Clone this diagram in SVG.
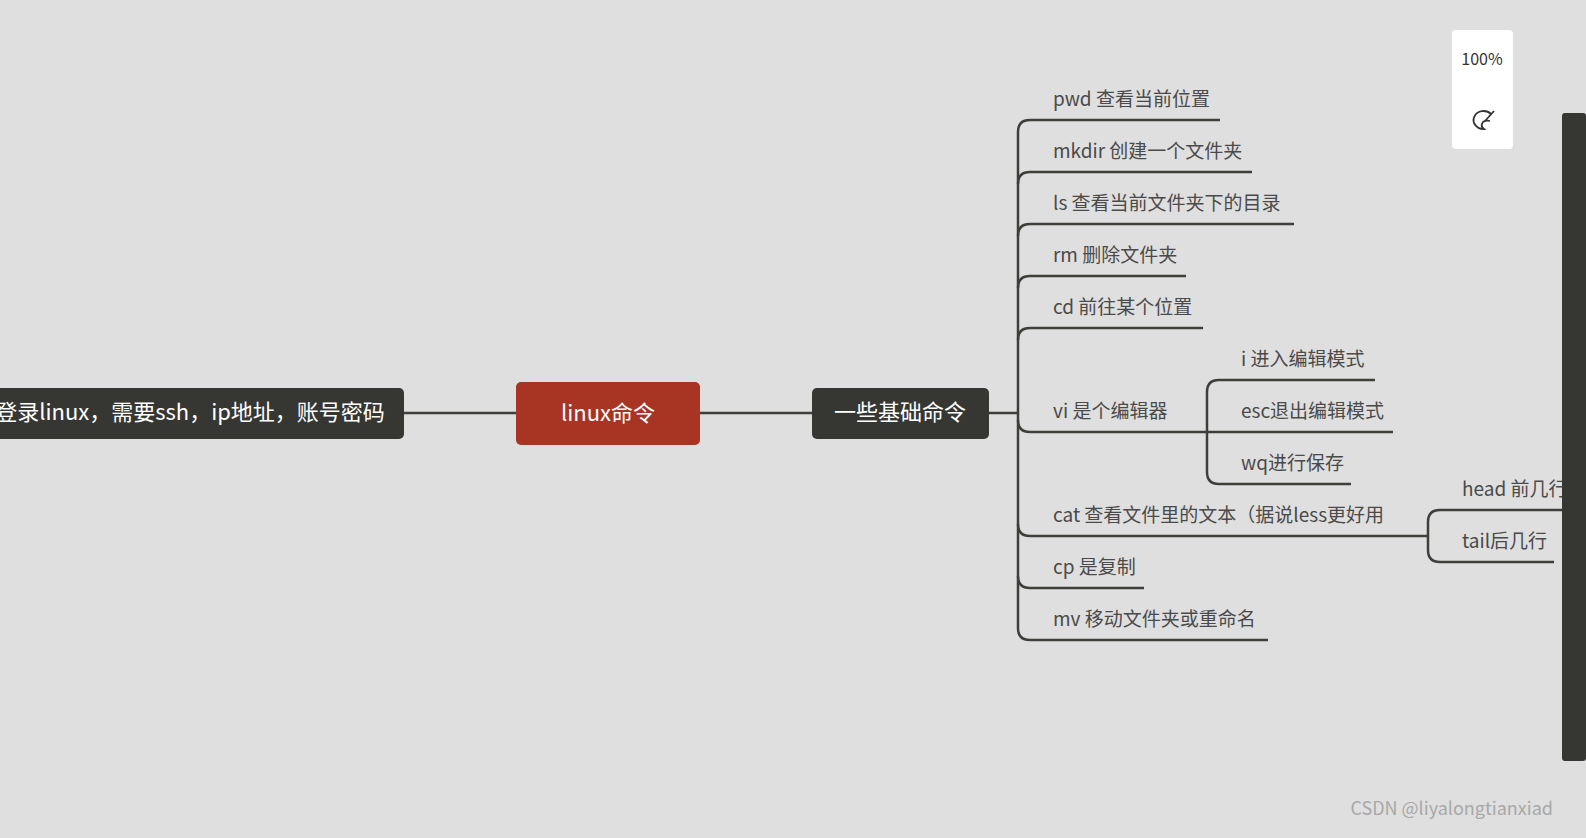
<svg xmlns="http://www.w3.org/2000/svg" width="1586" height="838" viewBox="0 0 1586 838">
<style>
text{font-family:"Noto Sans CJK SC","Noto Sans",sans-serif}
.b{font-size:19px;fill:#4a4a4a}
.c{fill:none;stroke:#3e3f3b;stroke-width:2.5}
.w{font-size:22px;fill:#fff}
</style>
<rect width="1586" height="838" fill="#dfdfdf"/>
<g id="connectors" class="c">
<path d="M404 413H516M700 413H812M989 413H1018"/>
<path d="M1220 120H1030Q1018 120 1018 132V628Q1018 640 1030 640H1268"/>
<path d="M1018 184Q1018 172 1030 172H1252M1018 236Q1018 224 1030 224H1294M1018 288Q1018 276 1030 276H1186M1018 340Q1018 328 1030 328H1203"/>
<path d="M1018 420Q1018 432 1030 432H1207M1018 524Q1018 536 1030 536H1428M1018 576Q1018 588 1030 588H1144"/>
<path d="M1375 380H1219Q1207 380 1207 392V472Q1207 484 1219 484H1351M1207 432H1393"/>
<path d="M1568 510H1440Q1428 510 1428 522V550Q1428 562 1440 562H1554"/>
</g>
<g id="n-left"><rect x="-20" y="388" width="424" height="51" rx="5" fill="#363733"/><text class="w" x="190" y="420" text-anchor="middle" font-size="21">登录linux，需要ssh，ip地址，账号密码</text></g>
<g id="n-root"><rect x="516" y="382" width="184" height="63" rx="5" fill="#a83424"/><text class="w" x="608" y="421" text-anchor="middle" font-size="25">linux命令</text></g>
<g id="n-basic"><rect x="812" y="388" width="177" height="51" rx="5" fill="#363733"/><text class="w" x="900" y="420" text-anchor="middle" font-size="21">一些基础命令</text></g>
<g id="n-pwd"><text class="b" x="1053" y="106">pwd 查看当前位置</text></g>
<g id="n-mkdir"><text class="b" x="1053" y="158">mkdir 创建一个文件夹</text></g>
<g id="n-ls"><text class="b" x="1053" y="210">ls 查看当前文件夹下的目录</text></g>
<g id="n-rm"><text class="b" x="1053" y="262">rm 删除文件夹</text></g>
<g id="n-cd"><text class="b" x="1053" y="314">cd 前往某个位置</text></g>
<g id="n-vi"><text class="b" x="1053" y="418">vi 是个编辑器</text></g>
<g id="n-i"><text class="b" x="1241" y="366">i 进入编辑模式</text></g>
<g id="n-esc"><text class="b" x="1241" y="418">esc退出编辑模式</text></g>
<g id="n-wq"><text class="b" x="1241" y="470">wq进行保存</text></g>
<g id="n-cat"><text class="b" x="1053" y="522">cat 查看文件里的文本（据说less更好用</text></g>
<g id="n-head"><text class="b" x="1462" y="496">head 前几行</text></g>
<g id="n-tail"><text class="b" x="1462" y="548">tail后几行</text></g>
<g id="n-cp"><text class="b" x="1053" y="574">cp 是复制</text></g>
<g id="n-mv"><text class="b" x="1053" y="626">mv 移动文件夹或重命名</text></g>
<rect x="1562" y="113" width="24" height="648" rx="3" fill="#363733"/>
<rect x="1452" y="30" width="61" height="119" rx="4" fill="#fff"/>
<text x="1482" y="65" text-anchor="middle" font-size="16" fill="#333">100%</text>
<g fill="none" stroke="#333" stroke-width="1.8"><path d="M1491 114A10 9 0 1 0 1484 129Q1480 126 1483 122Q1486 120 1490 121"/><path d="M1485 121L1494 111"/></g>
<text x="1553" y="815" text-anchor="end" font-size="18" fill="#a8a8a8" font-family="Liberation Sans,sans-serif">CSDN @liyalongtianxiad</text>
</svg>
